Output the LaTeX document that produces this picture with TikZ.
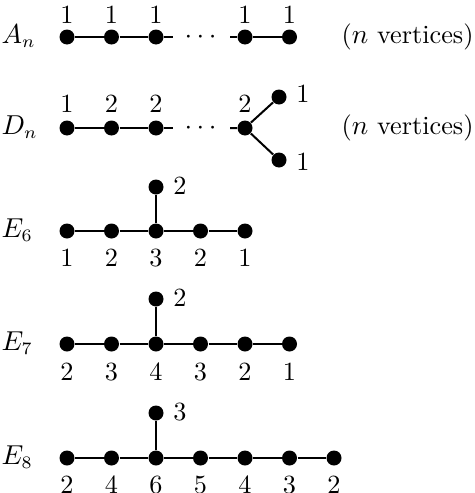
\documentclass[tikz,border=0pt]{standalone}
\begin{document}
\begin{tikzpicture}[x=0.4pt,y=-0.4pt,
  font=\fontsize{10.5}{12}\selectfont,
  v/.style={circle,fill=black,inner sep=0pt,minimum size=6pt},
  lab/.style={inner sep=0pt},
  rowlab/.style={inner sep=0pt,anchor=base west},
  edge/.style={line width=0.8pt}]
\useasboundingbox (0,0) rectangle (474,493);
% ---------- A_n
\node[rowlab] (An) at (1,43) {$A_n$};
\node[v] (a1) at (67,37) {};
\node[v] (a2) at (111.5,37) {};
\node[v] (a3) at (156,37) {};
\node[v] (a4) at (245,37) {};
\node[v] (a5) at (289.5,37) {};
\coordinate (a3e) at (173,37);
\coordinate (a4s) at (230,37);
\node[lab] (adots) at (200.5,37) {${\cdot}\mkern3mu{\cdot}\mkern3mu{\cdot}$};
\draw[edge] (a1) -- (a2) -- (a3) -- (a3e);
\draw[edge] (a4s) -- (a4) -- (a5);
\node[lab] (la1) at (67,15) {1};
\node[lab] (la2) at (111.5,15) {1};
\node[lab] (la3) at (156,15) {1};
\node[lab] (la4) at (245,15) {1};
\node[lab] (la5) at (289.5,15) {1};
\node[lab,anchor=east] (av) at (474,37) {($n$ vertices)};
% ---------- D_n
\node[rowlab] (Dn) at (1,134) {$D_n$};
\node[v] (d1) at (67,128) {};
\node[v] (d2) at (111.5,128) {};
\node[v] (d3) at (156,128) {};
\node[v] (d4) at (245,128) {};
\node[v] (d5) at (279,97) {};
\node[v] (d6) at (279,160) {};
\coordinate (d3e) at (173,128);
\coordinate (d4s) at (230,128);
\node[lab] (ddots) at (200.5,128) {${\cdot}\mkern3mu{\cdot}\mkern3mu{\cdot}$};
\draw[edge] (d1) -- (d2) -- (d3) -- (d3e);
\draw[edge] (d4s) -- (d4) -- (d5);
\draw[edge] (d4) -- (d6);
\node[lab] (ld1) at (67,104) {1};
\node[lab] (ld2) at (111.5,104) {2};
\node[lab] (ld3) at (156,104) {2};
\node[lab] (ld4) at (245,104) {2};
\node[lab] (ld5) at (303,94) {1};
\node[lab] (ld6) at (303,162) {1};
\node[lab,anchor=east] (dv) at (474,128) {($n$ vertices)};
% ---------- E_6
\node[rowlab] (E6) at (1,237) {$E_6$};
\node[v] (e61) at (67,231) {};
\node[v] (e62) at (111.5,231) {};
\node[v] (e63) at (156,231) {};
\node[v] (e64) at (200.5,231) {};
\node[v] (e65) at (245,231) {};
\node[v] (e6t) at (156,187) {};
\draw[edge] (e61) -- (e62) -- (e63) -- (e64) -- (e65);
\draw[edge] (e63) -- (e6t);
\node[lab] (le61) at (67,258) {1};
\node[lab] (le62) at (111.5,258) {2};
\node[lab] (le63) at (156,258) {3};
\node[lab] (le64) at (200.5,258) {2};
\node[lab] (le65) at (245,258) {1};
\node[lab] (le6t) at (180,186) {2};
% ---------- E_7
\node[rowlab] (E7) at (1,350) {$E_7$};
\node[v] (e71) at (67,344) {};
\node[v] (e72) at (111.5,344) {};
\node[v] (e73) at (156,344) {};
\node[v] (e74) at (200.5,344) {};
\node[v] (e75) at (245,344) {};
\node[v] (e76) at (289.5,344) {};
\node[v] (e7t) at (156,299) {};
\draw[edge] (e71) -- (e72) -- (e73) -- (e74) -- (e75) -- (e76);
\draw[edge] (e73) -- (e7t);
\node[lab] (le71) at (67,372) {2};
\node[lab] (le72) at (111.5,372) {3};
\node[lab] (le73) at (156,372) {4};
\node[lab] (le74) at (200.5,372) {3};
\node[lab] (le75) at (245,372) {2};
\node[lab] (le76) at (289.5,372) {1};
\node[lab] (le7t) at (180,298) {2};
% ---------- E_8
\node[rowlab] (E8) at (1,464) {$E_8$};
\node[v] (e81) at (67,458) {};
\node[v] (e82) at (111.5,458) {};
\node[v] (e83) at (156,458) {};
\node[v] (e84) at (200.5,458) {};
\node[v] (e85) at (245,458) {};
\node[v] (e86) at (289.5,458) {};
\node[v] (e87) at (334,458) {};
\node[v] (e8t) at (156,413) {};
\draw[edge] (e81) -- (e82) -- (e83) -- (e84) -- (e85) -- (e86) -- (e87);
\draw[edge] (e83) -- (e8t);
\node[lab] (le81) at (67,485) {2};
\node[lab] (le82) at (111.5,485) {4};
\node[lab] (le83) at (156,485) {6};
\node[lab] (le84) at (200.5,485) {5};
\node[lab] (le85) at (245,485) {4};
\node[lab] (le86) at (289.5,485) {3};
\node[lab] (le87) at (334,485) {2};
\node[lab] (le8t) at (180,412) {3};
\end{tikzpicture}
\end{document}
